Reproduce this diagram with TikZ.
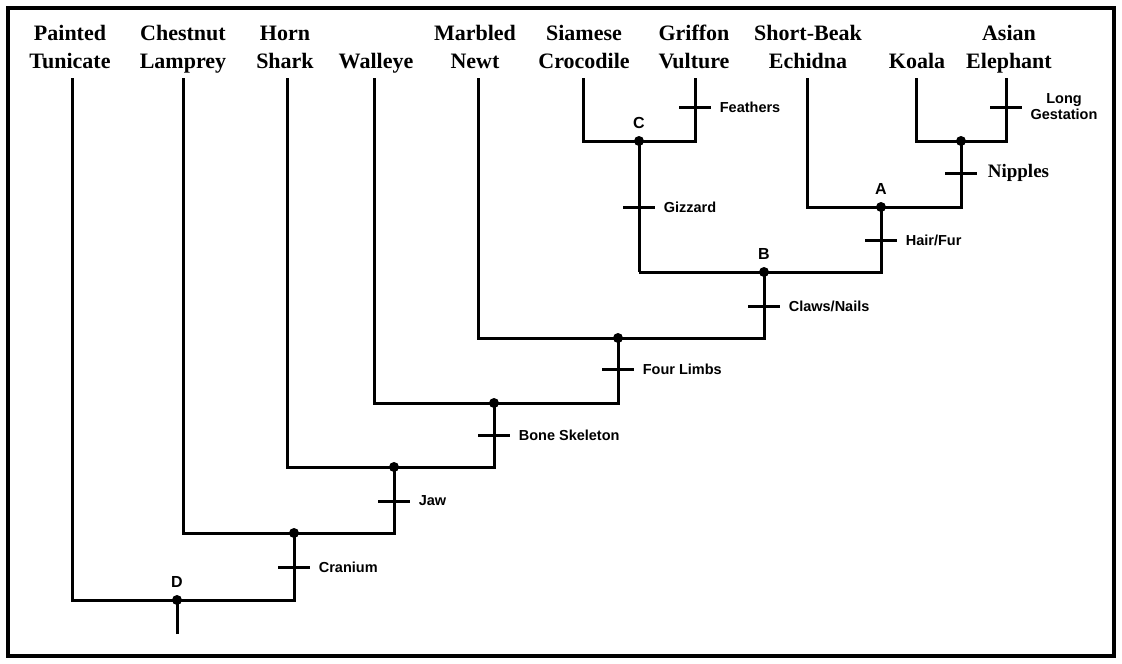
\documentclass[tikz,border=0pt]{standalone}
\usepackage{fontspec}
\setmainfont{Liberation Serif}
\newfontfamily\sansf{Liberation Sans}
\begin{document}
\begin{tikzpicture}[x=1pt,y=-1pt,line width=3pt,
 taxon/.style={font=\fontsize{22}{28}\selectfont\bfseries,align=center,anchor=south,text depth=5pt,inner sep=1pt},
 trait/.style={font=\sansf\fontsize{14.5}{16}\selectfont\bfseries,anchor=west,align=center},
 dot/.style={circle,fill=black,inner sep=0pt,minimum size=10pt},
 lab/.style={font=\sansf\fontsize{16}{18}\selectfont\bfseries,anchor=south}]
\useasboundingbox (0,0) rectangle (1122,664);
\draw[line width=3.5pt] (8,8) rectangle (1114,656);
% taxa labels
\node[taxon] (t1) at (70,76) {Painted\\Tunicate};
\node[taxon] (t2) at (183,76) {Chestnut\\Lamprey};
\node[taxon] (t3) at (285,76) {Horn\\Shark};
\node[taxon] (t4) at (376,76) {Walleye};
\node[taxon] (t5) at (475,76) {Marbled\\Newt};
\node[taxon] (t6) at (584,76) {Siamese\\Crocodile};
\node[taxon] (t7) at (694,76) {Griffon\\Vulture};
\node[taxon] (t8) at (808,76) {Short-Beak\\Echidna};
\node[taxon] (t9) at (917,76) {Koala};
\node[taxon] (t10) at (1009,76) {Asian\\Elephant};
% nodes
\node[dot] (D) at (177,600) {};
\node[dot] (n2) at (294,533) {};
\node[dot] (n3) at (394,467) {};
\node[dot] (n4) at (494,403) {};
\node[dot] (n5) at (618,338) {};
\node[dot] (B) at (764,272) {};
\node[dot] (C) at (639,141) {};
\node[dot] (A) at (881,207) {};
\node[dot] (n9) at (961,141) {};
\coordinate (root) at (177,634);
\node[lab] at (177,592) {D};
\node[lab] at (764,264) {B};
\node[lab] at (639,133) {C};
\node[lab] at (881,199) {A};
% branches
\draw (root) -- (D.center);
\draw (72,78) -- (72,600) -- (294,600) -- (n2.center);
\draw (183,78) -- (183,533) -- (394,533) -- (n3.center);
\draw (287,78) -- (287,467) -- (494,467) -- (n4.center);
\draw (374,78) -- (374,403) -- (618,403) -- (n5.center);
\draw (478,78) -- (478,338) -- (764,338) -- (B.center);
\draw (639,272) -- (881,272) -- (A.center);
\draw (C.center) -- (639,272);
\draw (583,78) -- (583,141) -- (695,141) -- (695,78);
\draw (807,78) -- (807,207) -- (961,207) -- (n9.center);
\draw (916,78) -- (916,141) -- (1006,141) -- (1006,78);
% traits
\foreach \x/\y/\t in {294/567/Cranium,394/501/Jaw,494/435/Bone Skeleton,618/369/Four Limbs,764/306/{Claws/Nails},639/207/Gizzard,695/107/Feathers,881/240/{Hair/Fur}}{
 \draw (\x-16,\y) -- (\x+16,\y);
 \node[trait] at (\x+20,\y) {\t};}
\draw (945,173) -- (977,173);
\node[anchor=west,font=\fontsize{19}{21}\selectfont\bfseries] at (983,173) {Nipples};
\draw (990,107) -- (1022,107);
\node[trait,anchor=center] at (1064,107) {Long\\Gestation};
\end{tikzpicture}
\end{document}
